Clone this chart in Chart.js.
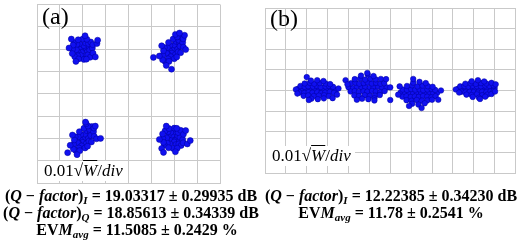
<!DOCTYPE html>
<html>
<head>
<meta charset="utf-8">
<script src="https://cdn.jsdelivr.net/npm/chart.js@4.4.1/dist/chart.umd.min.js"></script>
<style>
  body { margin: 0; width: 520px; height: 240px; background: #fff; position: relative; overflow: hidden; }
  canvas { position: absolute; }
  .tag { position: absolute; font: 24px 'Liberation Serif', serif; color: #000; }
  .scale { position: absolute; background: #fff; font: 17px 'Liberation Serif', serif; color: #000; padding: 0 4px 0 6px; }
  .scale i { font-style: italic; }
  .root { text-decoration: overline; }
  .res { position: absolute; font: bold 16px 'Liberation Serif', serif; color: #000; text-align: center; white-space: nowrap; }
  .res i { font-style: italic; }
  .res sub { font-size: 11px; font-style: italic; vertical-align: -3px; }
</style>
</head>
<body>
<canvas id="chartA" width="200" height="190" style="left:30px;top:0"></canvas>
<canvas id="chartB" width="262" height="180" style="left:258px;top:0"></canvas>

<div class="tag" style="left:42px;top:3px">(a)</div>
<div class="tag" style="left:270px;top:5px">(b)</div>
<div class="scale" style="left:38px;top:161px">0.01√<i class="root">W</i>/<i>div</i></div>
<div class="scale" style="left:266px;top:146px">0.01√<i class="root">W</i>/<i>div</i></div>

<div class="res" style="left:0;width:262px;top:187px">(<i>Q</i> − <i>factor</i>)<sub>I</sub> = 19.03317 ± 0.29935 dB</div>
<div class="res" style="left:0;width:262px;top:204px">(<i>Q</i> − <i>factor</i>)<sub>Q</sub> = 18.85613 ± 0.34339 dB</div>
<div class="res" style="left:6px;width:262px;top:221px">EV<i>M</i><sub>avg</sub> = 11.5085 ± 0.2429 %</div>
<div class="res" style="left:260px;width:262px;top:187px">(<i>Q</i> − <i>factor</i>)<sub>I</sub> = 12.22385 ± 0.34230 dB</div>
<div class="res" style="left:260px;width:262px;top:204px">EV<i>M</i><sub>avg</sub> = 11.78 ± 0.2541 %</div>

<script>
// (a) QPSK constellation, units of 0.01 sqrt(W) per division
const qpskTopLeft = [[-2,2],[-1.85,2.05],[-2.15,2.02],[-1.95,2.16],[-2.05,1.85],[-1.8,1.88],[-2.2,1.86],[-1.88,2.28],[-2.14,2.25],[-1.72,2.12],[-2.3,2.1],[-1.7,1.95],[-2.28,1.98],[-1.9,1.7],[-2.1,1.72],[-1.75,2.25],[-2.25,2.22],[-1.78,1.74],[-2.22,1.7],[-1.58,2.05],[-2.45,2],[-2,2.45],[-1.95,1.54],[-1.65,2.32],[-2.38,2.3],[-1.67,1.64],[-2.35,1.66],[-1.55,1.82],[-2.46,1.8],[-1.82,2.44],[-2.2,2.42],[-1.84,1.55],[-2.18,1.56],[-1.56,2.2],[-2.42,2.18],[-1.38,2.25],[-2.6,2.05],[-1.9,2.6],[-2.3,1.45],[-1.45,1.65],[-2.5,2.45],[-1.35,2.4]];
const qpskTopRight = [[1.95,2],[2.1,2.14],[1.8,1.93],[2,2.19],[1.9,1.82],[2.15,2],[1.75,1.74],[2.07,2.35],[1.81,2.17],[2.23,2.29],[1.65,1.92],[2.25,2.13],[1.67,1.81],[2.05,1.76],[1.85,1.66],[2.2,2.4],[1.7,2.07],[2.17,1.87],[1.73,1.57],[2.37,2.3],[1.5,1.73],[1.95,2.45],[2,1.57],[2.3,2.53],[1.57,2.07],[2.28,1.84],[1.6,1.45],[2.4,2.09],[1.49,1.52],[2.13,2.55],[1.75,2.3],[2.11,1.65],[1.77,1.45],[2.39,2.46],[1.53,1.93],[2.45,2.62],[1.35,1.69],[2.05,2.66],[1.65,1.27],[2.5,1.98],[1.45,2.15],[1.09,1.63],[1.88,1.1],[2.23,2.72]];
const qpskBottomLeft = [[-1.95,-2],[-1.8,-1.86],[-2.1,-2.07],[-1.9,-1.81],[-2,-2.18],[-1.75,-2],[-2.15,-2.26],[-1.83,-1.65],[-2.09,-1.83],[-1.67,-1.71],[-2.25,-2.08],[-1.65,-1.87],[-2.23,-2.19],[-1.85,-2.24],[-2.05,-2.34],[-1.7,-1.6],[-2.2,-1.93],[-1.73,-2.13],[-2.17,-2.43],[-1.53,-1.7],[-2.4,-2.27],[-1.95,-1.55],[-1.9,-2.43],[-1.6,-1.47],[-2.33,-1.93],[-1.62,-2.16],[-2.3,-2.55],[-1.5,-1.91],[-2.41,-2.48],[-1.77,-1.45],[-2.15,-1.7],[-1.79,-2.35],[-2.13,-2.55],[-1.51,-1.54],[-2.37,-2.07],[-1.45,-1.45],[-2.55,-2.31],[-1.85,-1.34],[-2.25,-2.73],[-1.4,-2.02],[-2.45,-1.85],[-2.66,-2.64],[-1.88,-1.27],[-1.22,-2]];
const qpskBottomRight = [[1.95,-2],[2.1,-2.05],[1.8,-2.02],[2,-2.16],[1.9,-1.85],[2.15,-1.88],[1.75,-1.86],[2.07,-2.28],[1.81,-2.25],[2.23,-2.12],[1.65,-2.1],[2.25,-1.95],[1.67,-1.98],[2.05,-1.7],[1.85,-1.72],[2.2,-2.25],[1.7,-2.22],[2.17,-1.74],[1.73,-1.7],[2.37,-2.05],[1.5,-2],[1.95,-2.45],[2,-1.54],[2.3,-2.32],[1.57,-2.3],[2.28,-1.64],[1.6,-1.66],[2.4,-1.82],[1.49,-1.8],[2.13,-2.44],[1.75,-2.42],[2.11,-1.55],[1.77,-1.56],[2.39,-2.2],[1.53,-2.18],[2.57,-2.25],[1.35,-2.05],[2.05,-2.6],[1.65,-1.45],[2.5,-1.65],[1.45,-2.45],[2.7,-2.1],[1.53,-2.63]];

// (b) PAM4 levels
const pam4Level1 = [[-4.42,0.08],[-4.2,0.02],[-4.03,0.06],[-3.8,0.03],[-3.63,0.07],[-3.41,0.04],[-3.24,0.01],[-3,0.06],[-2.83,0.09],[-2.6,0.03],[-4.3,0.22],[-4.1,0.18],[-3.93,0.21],[-3.7,0.19],[-3.52,0.23],[-3.33,0.17],[-3.1,0.2],[-2.93,0.22],[-2.74,0.18],[-4.34,-0.1],[-4.12,-0.12],[-3.91,-0.08],[-3.73,-0.11],[-3.5,-0.09],[-3.31,-0.13],[-3.12,-0.1],[-2.9,-0.07],[-2.7,-0.12],[-4.1,0.34],[-3.85,0.37],[-3.64,0.33],[-3.38,0.36],[-3.1,0.34],[-2.88,0.31],[-4.15,-0.26],[-3.93,-0.24],[-3.66,-0.27],[-3.42,-0.25],[-3.17,-0.23],[-2.94,-0.27],[-3.8,0.48],[-3.5,0.5],[-3.2,0.46],[-3.78,-0.4],[-3.47,-0.42],[-3.18,-0.38],[-3.9,-0.46],[-2.76,-0.37],[-4.52,0.05],[-2.48,0.1],[-4,0.65],[-4.45,-0.15],[-2.55,-0.2]];
const pam4Level2 = [[-2,0.16],[-1.78,0.12],[-1.6,0.18],[-1.37,0.14],[-1.2,0.17],[-0.98,0.13],[-0.8,0.16],[-0.58,0.19],[-0.4,0.12],[-0.17,0.15],[-1.88,0.35],[-1.67,0.38],[-1.48,0.33],[-1.27,0.36],[-1.08,0.39],[-0.88,0.34],[-0.68,0.37],[-0.47,0.33],[-0.29,0.36],[-1.9,-0.05],[-1.7,-0.03],[-1.5,-0.07],[-1.28,-0.04],[-1.1,-0.06],[-0.87,-0.02],[-0.69,-0.05],[-0.48,-0.08],[-0.27,-0.03],[-1.7,0.55],[-1.44,0.58],[-1.2,0.53],[-0.95,0.57],[-0.7,0.54],[-0.45,0.56],[-1.72,-0.24],[-1.5,-0.27],[-1.22,-0.23],[-0.98,-0.26],[-0.73,-0.25],[-0.5,-0.22],[-1.4,0.72],[-1.08,0.78],[-0.8,0.7],[-1.35,-0.4],[-1.05,-0.42],[-0.76,-0.38],[-1.1,0.85],[-2.14,0.5],[-2.05,0.3],[0,0.15],[-0.76,-0.48],[0,-0.46],[-0.2,0.55],[-1.6,-0.45]];
const pam4Level3 = [[0.5,-0.1],[0.7,-0.14],[0.9,-0.11],[1.1,-0.13],[1.28,-0.09],[1.48,-0.12],[1.68,-0.15],[1.88,-0.1],[2.06,-0.13],[2.25,-0.11],[0.6,0.05],[0.8,0.03],[1,0.07],[1.2,0.04],[1.4,0.06],[1.58,0.02],[1.78,0.05],[1.98,0.08],[2.15,0.03],[0.58,-0.3],[0.78,-0.28],[0.98,-0.32],[1.18,-0.29],[1.37,-0.31],[1.57,-0.27],[1.77,-0.3],[1.97,-0.33],[2.17,-0.28],[0.8,0.22],[1.05,0.25],[1.3,0.2],[1.55,0.24],[1.8,0.21],[2.03,0.18],[0.78,-0.47],[1.02,-0.5],[1.27,-0.46],[1.52,-0.49],[1.77,-0.48],[2,-0.45],[1.1,0.38],[1.4,0.42],[1.7,0.36],[1.05,-0.64],[1.35,-0.68],[1.65,-0.62],[0.38,-0.2],[2.43,0],[1.1,0.56],[1.5,-0.85],[0.9,-0.75],[2.3,-0.45],[0.45,0.2]];
const pam4Level4 = [[3.25,0.08],[3.45,0.05],[3.65,0.09],[3.85,0.06],[4.05,0.04],[4.25,0.08],[4.45,0.1],[4.65,0.07],[4.85,0.11],[5,0.12],[3.35,0.2],[3.55,0.22],[3.75,0.19],[3.95,0.23],[4.15,0.21],[4.35,0.2],[4.55,0.24],[4.75,0.22],[4.95,0.25],[3.4,-0.06],[3.6,-0.09],[3.8,-0.07],[4,-0.08],[4.2,-0.1],[4.4,-0.06],[4.6,-0.08],[4.8,-0.05],[4.95,-0.03],[3.6,0.33],[3.85,0.35],[4.1,0.32],[4.35,0.36],[4.6,0.34],[4.85,0.37],[3.65,-0.2],[3.9,-0.22],[4.15,-0.19],[4.4,-0.23],[4.65,-0.2],[4.85,-0.17],[3.9,0.45],[4.2,0.5],[4.5,0.44],[3.95,-0.31],[4.25,-0.35],[4.55,-0.3],[3.14,0.05],[5.05,0.3],[4.3,-0.41],[3.3,-0.1],[5.02,-0.05]];

const qpskRange = [-4, 4];
const pam4XRange = [-6, 6];
const pam4YRange = [-4, 4];

const gridColor = '#c9c9c9';

function toPoints(list) {
    return list.map(p => ({ x: p[0], y: p[1] }));
}

function gridAxis(range) {
    return {
        type: 'linear',
        min: range[0],
        max: range[1],
        ticks: { display: false, stepSize: 1 },
        grid: { color: gridColor, drawTicks: false, lineWidth: 1 },
        border: { color: gridColor }
    };
}

function drawConstellation(id, clusters, xRange, yRange, padding, radius) {
    const ctx = document.getElementById(id).getContext('2d');
    new Chart(ctx, {
        type: 'scatter',
        data: {
            datasets: clusters.map(c => ({
                data: toPoints(c),
                backgroundColor: '#1010f0',
                borderColor: '#00009a',
                borderWidth: 0.5,
                pointRadius: radius
            }))
        },
        options: {
            responsive: false,
            animation: false,
            devicePixelRatio: 1,
            layout: { padding: padding },
            plugins: { legend: { display: false }, tooltip: { enabled: false } },
            scales: { x: gridAxis(xRange), y: gridAxis(yRange) }
        }
    });
}

drawConstellation('chartA', [qpskTopLeft, qpskTopRight, qpskBottomLeft, qpskBottomRight],
    qpskRange, qpskRange, { left: 7, top: 1, right: 10, bottom: 7 }, 3);
drawConstellation('chartB', [pam4Level1, pam4Level2, pam4Level3, pam4Level4],
    pam4XRange, pam4YRange, { left: 7, top: 8, right: 3, bottom: 7 }, 2.8);
</script>
</body>
</html>
